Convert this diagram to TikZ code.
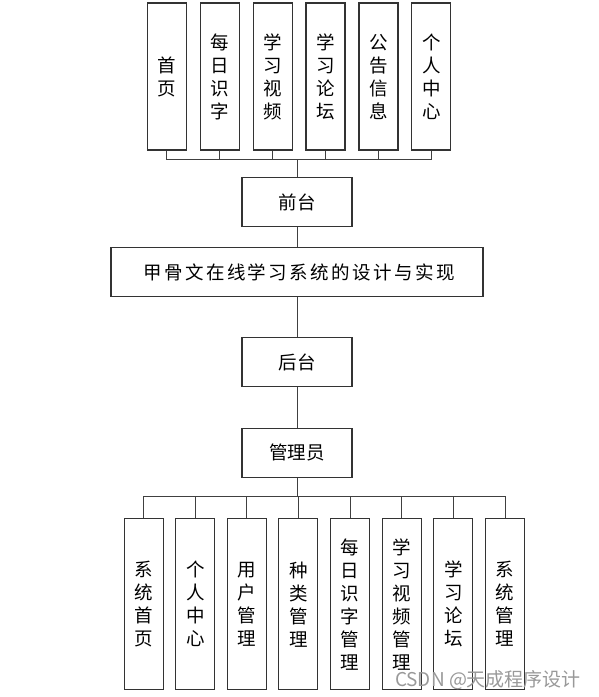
\documentclass[tikz,border=0pt]{standalone}
\usepackage{fontspec}
\setmainfont{Noto Sans CJK SC}
\usetikzlibrary{positioning}

\begin{document}
\begin{tikzpicture}[x=1pt,y=-1pt,
        box/.style={draw=black!80,line width=1.1pt,inner sep=0pt,fill=white},
        tall/.style={box,minimum width=39pt,align=center,font=\fontsize{18.5}{23}\selectfont},
        wide/.style={box,minimum width=110pt,minimum height=49pt,font=\fontsize{18.5}{23}\selectfont}]
            \useasboundingbox (0,0) rectangle (599,697);

            \node[tall,minimum height=147pt] (f1) at (166.8,76.5) {首\\页};
            \node[tall,minimum height=147pt] (f2) at (219.8,76.5) {每\\日\\识\\字};
            \node[tall,minimum height=147pt] (f3) at (272.8,76.5) {学\\习\\视\\频};
            \node[tall,minimum height=147pt] (f4) at (325.5,76.5) {学\\习\\论\\坛};
            \node[tall,minimum height=147pt] (f5) at (378.5,76.5) {公\\告\\信\\息};
            \node[tall,minimum height=147pt] (f6) at (431.3,76.5) {个\\人\\中\\心};

            \node[wide] (front) at (297,202) {前台};
            \node[box,minimum width=372pt,minimum height=49pt,
                  font={\fontsize{18.5}{22}\selectfont\addfontfeature{LetterSpace=13}}]
                  (title) at (297,272.4) {\hspace*{4pt}甲骨文在线学习系统的设计与实现};
            \node[wide] (back)  at (297,362.2) {后台};
            \node[wide] (admin) at (297,452.7) {管理员};

            \node[tall,minimum height=171pt] (b1) at (143.7,604.2) {系\\统\\首\\页};
            \node[tall,minimum height=171pt] (b2) at (195.3,604.2) {个\\人\\中\\心};
            \node[tall,minimum height=171pt] (b3) at (246.7,604.2) {用\\户\\管\\理};
            \node[tall,minimum height=171pt] (b4) at (298.3,604.2) {种\\类\\管\\理};
            \node[tall,minimum height=171pt] (b5) at (350.0,604.2) {每\\日\\识\\字\\管\\理};
            \node[tall,minimum height=171pt] (b6) at (401.7,604.2) {学\\习\\视\\频\\管\\理};
            \node[tall,minimum height=171pt] (b7) at (453.3,604.2) {学\\习\\论\\坛};
            \node[tall,minimum height=171pt] (b8) at (505.0,604.2) {系\\统\\管\\理};

            \begin{scope}[draw=black!75,line width=1pt]
                \draw (f1.south) -- ++(0,9) -| (front.north);
                \draw (f2.south) -- ++(0,9) -| (front.north);
                \draw (f3.south) -- ++(0,9) -| (front.north);
                \draw (f4.south) -- ++(0,9) -| (front.north);
                \draw (f5.south) -- ++(0,9) -| (front.north);
                \draw (f6.south) -- ++(0,9) -| (front.north);

                \draw (front.south) -- (title.north);
                \draw (title.south) -- (back.north);
                \draw (back.south)  -- (admin.north);

                \draw (admin.south) -- ++(0,19) -| (b1.north);
                \draw (admin.south) -- ++(0,19) -| (b2.north);
                \draw (admin.south) -- ++(0,19) -| (b3.north);
                \draw (admin.south) -- ++(0,19) -| (b4.north);
                \draw (admin.south) -- ++(0,19) -| (b5.north);
                \draw (admin.south) -- ++(0,19) -| (b6.north);
                \draw (admin.south) -- ++(0,19) -| (b7.north);
                \draw (admin.south) -- ++(0,19) -| (b8.north);
            \end{scope}

            \node[text=black!40,font=\fontsize{19}{19}\selectfont] (mark) at (488,680) {CSDN @天成程序设计};
        \end{tikzpicture}
\end{document}
